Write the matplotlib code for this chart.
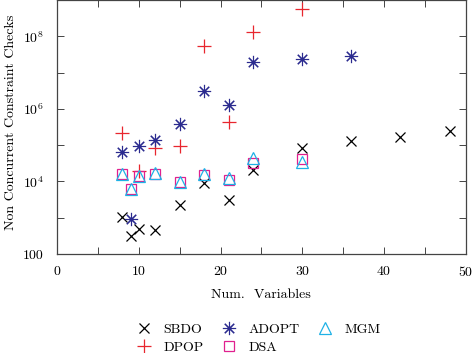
import numpy as np
import matplotlib
matplotlib.use("Agg")
import matplotlib.pyplot as plt
from matplotlib.ticker import FixedLocator, FixedFormatter

plt.rcParams['font.family'] = 'cmr10'
plt.rcParams['mathtext.fontset'] = 'cm'
plt.rcParams['axes.unicode_minus'] = False
plt.rcParams['axes.formatter.use_mathtext'] = True

# data
sbdo_x = [8, 9, 10, 12, 15, 18, 21, 24, 30, 36, 42, 48]
sbdo_y = [1.05e3, 3.2e2, 5.0e2, 4.5e2, 2.3e3, 8.8e3, 3.0e3, 2.0e4, 8.5e4, 1.3e5, 1.7e5, 2.4e5]

dpop_x = [8, 10, 12, 15, 18, 21, 24, 30]
dpop_y = [2.2e5, 1.9e4, 8.4e4, 9.4e4, 5.5e7, 4.4e5, 1.3e8, 5.7e8]

adopt_x = [8, 9, 10, 12, 15, 18, 21, 24, 30, 36]
adopt_y = [6.5e4, 9.2e2, 9.4e4, 1.35e5, 3.9e5, 3.1e6, 1.3e6, 2.0e7, 2.4e7, 2.9e7]

dsa_x = [8, 9, 10, 12, 15, 18, 21, 24, 30]
dsa_y = [1.6e4, 6.0e3, 1.4e4, 1.6e4, 9.6e3, 1.5e4, 1.1e4, 3.3e4, 4.1e4]

mgm_x = [8, 9, 10, 12, 15, 18, 21, 24, 30]
mgm_y = [1.65e4, 6.2e3, 1.4e4, 1.7e4, 9.8e3, 1.65e4, 1.25e4, 4.5e4, 3.4e4]

c_red = '#e8262e'
c_navy = '#2b2b8f'
c_mag = '#e0208f'
c_cyan = '#1fb1e6'

fig = plt.figure(figsize=(4.74, 3.53), dpi=100)
ax = fig.add_axes([0.120, 0.2805, 0.863, 0.7195])

ax.plot(sbdo_x, sbdo_y, 'x', color='black', ms=7.5, mew=0.9, label='SBDO')
ax.plot(dpop_x, dpop_y, '+', color=c_red, ms=9.5, mew=0.9, label='DPOP')
ax.plot(adopt_x, adopt_y, marker=(8, 2, 0), ls='none', color=c_navy, ms=9.5, mew=0.8, label='ADOPT')
ax.plot(dsa_x, dsa_y, 's', color=c_mag, mfc='none', ms=7, mew=0.9, label='DSA')
ax.plot(mgm_x, mgm_y, '^', color=c_cyan, mfc='none', ms=9, mew=0.9, label='MGM')

ax.set_yscale('log')
ax.set_xlim(0, 50)
ax.set_ylim(100, 1e9)

ax.xaxis.set_major_locator(FixedLocator([0, 10, 20, 30, 40, 50]))
ax.xaxis.set_minor_locator(FixedLocator([5, 15, 25, 35, 45]))
ax.yaxis.set_major_locator(FixedLocator([1e2, 1e4, 1e6, 1e8]))
ax.yaxis.set_major_formatter(FixedFormatter(['100', r'$10^4$', r'$10^6$', r'$10^8$']))
ax.yaxis.set_minor_locator(FixedLocator([1e3, 1e5, 1e7]))
ax.yaxis.set_minor_formatter(FixedFormatter([]))

ax.tick_params(which='both', direction='in', top=True, right=True, labelsize=10,
               length=5, width=0.7, color='#444444')
ax.tick_params(axis='x', pad=8)
ax.tick_params(axis='y', pad=9.5)
for s in ax.spines.values():
    s.set_color('#444444')
    s.set_linewidth(0.9)

ax.set_xlabel('Num.  Variables', fontsize=10, labelpad=7)
ax.set_ylabel('Non Concurrent Constraint Checks', fontsize=10)
ax.yaxis.set_label_coords(-0.098, 0.52)

ax.legend(loc='upper center', bbox_to_anchor=(0.492, -0.25), ncol=3, frameon=False,
          fontsize=10, handletextpad=0.8, columnspacing=1.25, labelspacing=0.4,
          handlelength=1.2, borderaxespad=0)

fig.savefig('out.png', dpi=100)
